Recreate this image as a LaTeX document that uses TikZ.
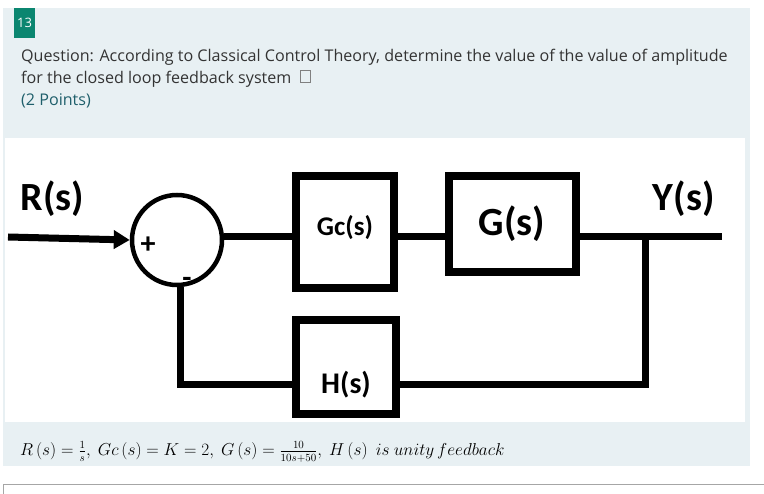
\documentclass[tikz,border=0pt]{standalone}
\usepackage{fontspec}
\setmainfont{Open Sans}
\newfontfamily\lbl{Carlito}
\usetikzlibrary{arrows.meta}
\definecolor{panel}{HTML}{E8F0F3}
\definecolor{badge}{HTML}{0B8670}
\definecolor{ptxt}{HTML}{1F5F6B}
\tikzset{blk/.style={draw=black,line width=8pt,fill=white},
 wire/.style={line width=7pt},
 big/.style={font=\lbl\bfseries\fontsize{40}{42}\selectfont},
 mid/.style={font=\lbl\bfseries\fontsize{27}{29}\selectfont}}
\begin{document}
\begin{tikzpicture}[x=1pt,y=-1pt]
\useasboundingbox (0,0) rectangle (764,494);
\fill[white] (0,0) rectangle (764,494);
\fill[panel] (3,8) rectangle (750,466);
\node[fill=badge,text=white,minimum width=21pt,minimum height=30pt,inner sep=0,font=\fontsize{13}{15}\selectfont] (num) at (24.5,23) {13};
\node[anchor=north west,align=left,inner sep=0,font=\fontsize{16.1}{22}\selectfont,text=black!80] (q) at (21,49)
 {Question: According to Classical Control Theory, determine the value of the value of amplitude\\for the closed loop feedback system\ \ \tikz[baseline=-1pt]\draw[gray,line width=0.6pt] (0pt,0pt) rectangle (10pt,12pt);\\\textcolor{ptxt}{(2 Points)}};
\fill[white] (5,138) rectangle (745,422);
% diagram
\node[big,anchor=west] (R) at (17,199) {R(s)};
\node[big,anchor=east] (Y) at (718,199) {Y(s)};
\node[circle,draw,line width=4.5pt,minimum size=90pt,inner sep=0] (sum) at (177,240) {};
\node[blk,minimum width=98pt,minimum height=112pt] (gc) at (345,232) {};
\node[mid] at ([yshift=4pt]gc.center) {Gc(s)};
\node[blk,minimum width=127pt,minimum height=96pt] (g) at (512,224) {};
\node[big] at (g.center) {G(s)};
\node[blk,minimum width=100pt,minimum height=94pt] (h) at (346,367) {};
\node[font=\lbl\bfseries\fontsize{30}{32}\selectfont] (hl) at (346,385) {H(s)};
\node[font=\lbl\bfseries\fontsize{30}{32}\selectfont] (plus) at (148,245) {+};
\node[font=\lbl\bfseries\fontsize{30}{32}\selectfont] (minus) at (187,282) {-};
\coordinate (in) at (8,237);
\coordinate (out) at (722,237);
\coordinate (tap) at (645,237);
\coordinate (br) at (645,385);
\coordinate (bl) at (180,385);
\draw[wire,-{Triangle[length=16pt,width=18pt]}] (in) -- (sum.west);
\draw[wire] (sum.east |- 0,237) -- (gc.west |- 0,237);
\draw[wire] (gc.east |- 0,237) -- (g.west |- 0,237);
\draw[wire] (g.east |- 0,237) -- (out);
\draw[wire] (tap) -- (br) -- (h.east |- br);
\draw[wire] (h.west |- bl) -- (bl) -- (sum.south -| bl);
% formula
\node[anchor=west,inner sep=0,font=\fontsize{16}{18}\selectfont] (f) at (20,452)
 {$R\,(s)=\frac{1}{s},\ Gc\,(s)=K=2,\ G\,(s)=\frac{10}{10s+50},\ H\,(s)\ \ is\ unity\,feedback$};
\draw[gray!70,line width=0.8pt] (3,494.5) -- (3,484) -- (764,484);
\end{tikzpicture}
\end{document}
